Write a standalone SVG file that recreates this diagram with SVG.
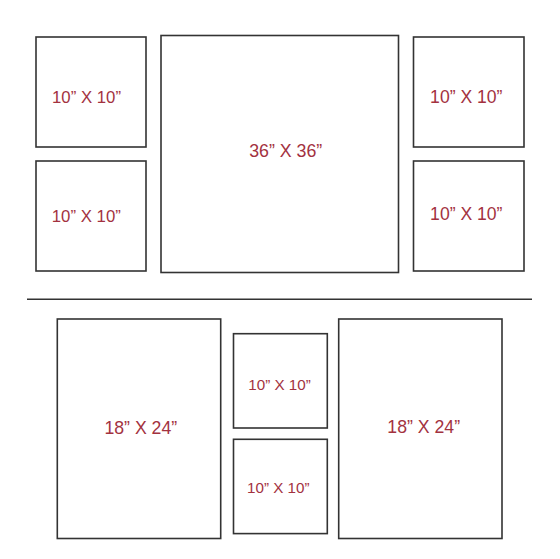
<svg xmlns="http://www.w3.org/2000/svg" width="560" height="559" viewBox="0 0 560 559">
<style>
.frame{fill:#ffffff;stroke:#333333;stroke-width:1.6}
.lbl{font-family:"Liberation Sans",Arial,sans-serif;fill:#a3323f;text-anchor:middle}
</style>
<rect width="560" height="559" fill="#ffffff"/>
<g id="f-top-left-1"><rect class="frame" x="36" y="37" width="110" height="110"/><text class="lbl" x="86.5" y="102.7" font-size="16.8">10” X 10”</text></g>
<g id="f-top-left-2"><rect class="frame" x="36" y="161" width="110" height="110"/><text class="lbl" x="86.3" y="221.7" font-size="16.8">10” X 10”</text></g>
<g id="f-center"><rect class="frame" x="161" y="35.5" width="237.5" height="237"/><text class="lbl" x="285.7" y="157" font-size="17.8">36” X 36”</text></g>
<g id="f-top-right-1"><rect class="frame" x="413.5" y="37" width="110.5" height="110"/><text class="lbl" x="466.3" y="103.3" font-size="17.6">10” X 10”</text></g>
<g id="f-top-right-2"><rect class="frame" x="413.5" y="161" width="110.5" height="110"/><text class="lbl" x="466.3" y="220" font-size="17.6">10” X 10”</text></g>
<g id="separator"><line x1="27" y1="299.3" x2="532" y2="299.3" stroke="#333333" stroke-width="1.6"/></g>
<g id="f-bottom-left"><rect class="frame" x="57.3" y="319" width="163.4" height="219.5"/><text class="lbl" x="140.8" y="434" font-size="17.7">18” X 24”</text></g>
<g id="f-bottom-mid-1"><rect class="frame" x="233.5" y="333.7" width="93.8" height="94.3"/><text class="lbl" x="279.5" y="390" font-size="15.2">10” X 10”</text></g>
<g id="f-bottom-mid-2"><rect class="frame" x="233.5" y="439.3" width="93.8" height="94.3"/><text class="lbl" x="278.3" y="492.7" font-size="15.2">10” X 10”</text></g>
<g id="f-bottom-right"><rect class="frame" x="338.7" y="319" width="163.3" height="219.5"/><text class="lbl" x="423.7" y="433.3" font-size="17.7">18” X 24”</text></g>
</svg>
